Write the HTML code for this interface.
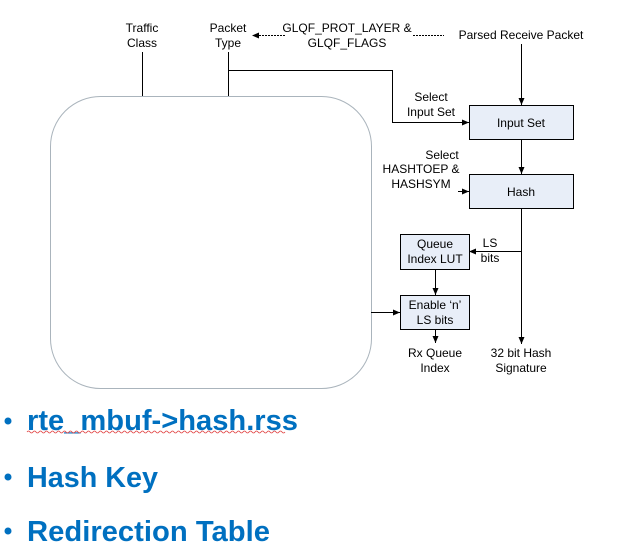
<!DOCTYPE html>
<html><head><meta charset="utf-8"><style>
html,body{margin:0;padding:0;background:#fff;width:626px;height:547px;overflow:hidden}
svg text{font-family:"Liberation Sans",Arial,sans-serif}
</style></head><body>
<svg width="626" height="547" viewBox="0 0 626 547" xmlns="http://www.w3.org/2000/svg">
<defs><marker id="a" markerWidth="8" markerHeight="8" refX="7" refY="4" orient="auto" markerUnits="userSpaceOnUse"><path d="M0,1 L7,4 L0,7 Z" fill="#000"/></marker></defs>
<rect x="50.5" y="96.5" width="321" height="292" rx="50" fill="#fff" stroke="#aab4bc" stroke-width="1"/>
<g font-size="12" fill="#000" text-anchor="middle">
<text x="142" y="32">Traffic</text><text x="142" y="47">Class</text>
<text x="228" y="32">Packet</text><text x="228" y="47">Type</text>
<text x="347" y="32">GLQF_PROT_LAYER &amp;</text><text x="347" y="47">GLQF_FLAGS</text>
<text x="521" y="39">Parsed Receive Packet</text>
<text x="431" y="101">Select</text><text x="431" y="116">Input Set</text>
<text x="442" y="159">Select</text><text x="421" y="173">HASHTOEP &amp;</text><text x="421" y="188">HASHSYM</text>
<text x="490" y="247">LS</text><text x="490" y="262">bits</text>
<text x="435" y="357">Rx Queue</text><text x="435" y="372">Index</text>
<text x="521" y="357">32 bit Hash</text><text x="521" y="372">Signature</text>
</g>
<g stroke="#000" stroke-width="1" fill="none">
<line x1="142.5" y1="52" x2="142.5" y2="96"/>
<line x1="228.5" y1="52" x2="228.5" y2="96"/>
<polyline points="228.5,70.5 392.5,70.5 392.5,122.5 469,122.5" marker-end="url(#a)"/>
<line x1="285" y1="35.5" x2="252" y2="35.5" stroke-dasharray="2,1" marker-end="url(#a)"/>
<line x1="413" y1="35.5" x2="444" y2="35.5" stroke-dasharray="2,1"/>
<line x1="521.5" y1="44" x2="521.5" y2="105" marker-end="url(#a)"/>
<line x1="521.5" y1="139" x2="521.5" y2="174" marker-end="url(#a)"/>
<line x1="458" y1="191.5" x2="469" y2="191.5" marker-end="url(#a)"/>
<line x1="521.5" y1="208" x2="521.5" y2="344" marker-end="url(#a)"/>
<line x1="521.5" y1="251.5" x2="469" y2="251.5" marker-end="url(#a)"/>
<line x1="435.5" y1="269" x2="435.5" y2="295" marker-end="url(#a)"/>
<line x1="371" y1="312.5" x2="400" y2="312.5" marker-end="url(#a)"/>
<line x1="435.5" y1="329" x2="435.5" y2="343" marker-end="url(#a)"/>
</g>
<g fill="#e8eef8" stroke="#000" stroke-width="1">
<rect x="469.5" y="105.5" width="104" height="34"/>
<rect x="469.5" y="174.5" width="104" height="34"/>
<rect x="400.5" y="234.5" width="69" height="35"/>
<rect x="400.5" y="295.5" width="69" height="34"/>
</g>
<g font-size="12" fill="#000" text-anchor="middle">
<text x="521" y="127">Input Set</text>
<text x="521" y="196">Hash</text>
<text x="435" y="248">Queue</text><text x="435" y="263">Index LUT</text>
<text x="435" y="309">Enable ‘n’</text><text x="435" y="324">LS bits</text>
</g>
<g fill="#0070c0" font-weight="bold" font-size="29">
<circle cx="8" cy="421" r="3.5"/><circle cx="8" cy="477" r="3.5"/><circle cx="8" cy="531" r="3.5"/>
<text x="27" y="430" textLength="271" lengthAdjust="spacingAndGlyphs">rte_mbuf-&gt;hash.rss</text>
<text x="27" y="487" textLength="131" lengthAdjust="spacingAndGlyphs">Hash Key</text>
<text x="27" y="541" textLength="243" lengthAdjust="spacingAndGlyphs">Redirection Table</text>
</g>
<path d="M27,432 q1.5,-2 3,0 t3,0 t3,0 t3,0 t3,0 t3,0 t3,0 t3,0 t3,0 t3,0 t3,0 t3,0 t3,0 t3,0 t3,0 t3,0 t3,0 t3,0 t3,0 t3,0 t3,0 t3,0 t3,0 t3,0 t3,0 t3,0 t3,0 t3,0 t3,0 t3,0 t3,0 t3,0 t3,0 t3,0 t3,0 t3,0 t3,0 t3,0 t3,0 t3,0 t3,0 t3,0 t3,0 t3,0 t3,0 t3,0 t3,0 t3,0 t3,0 t3,0 t3,0 t3,0 t3,0 t3,0 t3,0 t3,0 t3,0 t3,0 t3,0 t3,0 t3,0 t3,0 t3,0 t3,0 t3,0 t3,0 t3,0 t3,0 t3,0 t3,0 t3,0 t3,0 t3,0 t3,0 t3,0 t3,0 t3,0 t3,0 t3,0 t3,0 t3,0 t3,0 t3,0 t3,0 t3,0 t3,0" fill="none" stroke="#e04040" stroke-width="0.8"/>
</svg>
</body></html>
